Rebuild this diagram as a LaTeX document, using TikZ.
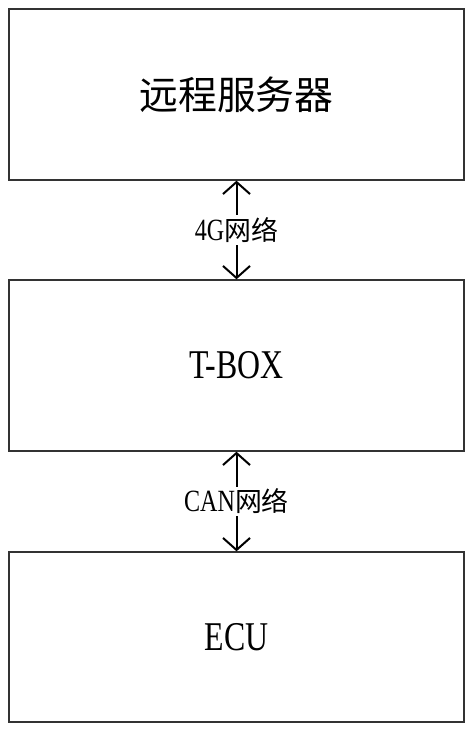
\documentclass[tikz,border=0pt]{standalone}
\usepackage{fontspec}
\usetikzlibrary{arrows.meta}
\newfontfamily\cjk{Noto Sans CJK SC}
\newfontfamily\lat[FakeStretch=0.78]{Liberation Serif}
\newcommand{\latlbl}[1]{{\lat\fontsize{31}{36}\selectfont #1}}
\newcommand{\cjklbl}[1]{{\cjk\fontsize{27}{32}\selectfont #1}}
\begin{document}
\begin{tikzpicture}[x=1bp,y=-1bp,
  box/.style={draw=black!80, line width=1.4bp, minimum width=455bp, minimum height=171bp, inner sep=0pt},
  link/.style={line width=2bp, {Straight Barb[length=12bp,width=27bp,line width=2bp]}-{Straight Barb[length=12bp,width=27bp,line width=2bp]}},
  lbl/.style={fill=white, inner sep=2bp}]
\useasboundingbox (0,0) rectangle (474,732);
\node[box] (srv) at (236.5,94.5) {\cjk\fontsize{39}{46}\selectfont 远程服务器};
\node[box] (tbox) at (236.5,365.5) {\lat\fontsize{41}{48}\selectfont T-BOX};
\node[box, minimum height=170bp] (ecu) at (236.5,637) {\lat\fontsize{41}{48}\selectfont ECU};
\draw[link] (srv.south) -- (tbox.north) node[midway, lbl] (l1) {\latlbl{4G}\cjklbl{网络}};
\draw[link] (tbox.south) -- (ecu.north) node[midway, lbl] (l2) {\latlbl{CAN}\cjklbl{网络}};
\end{tikzpicture}
\end{document}
